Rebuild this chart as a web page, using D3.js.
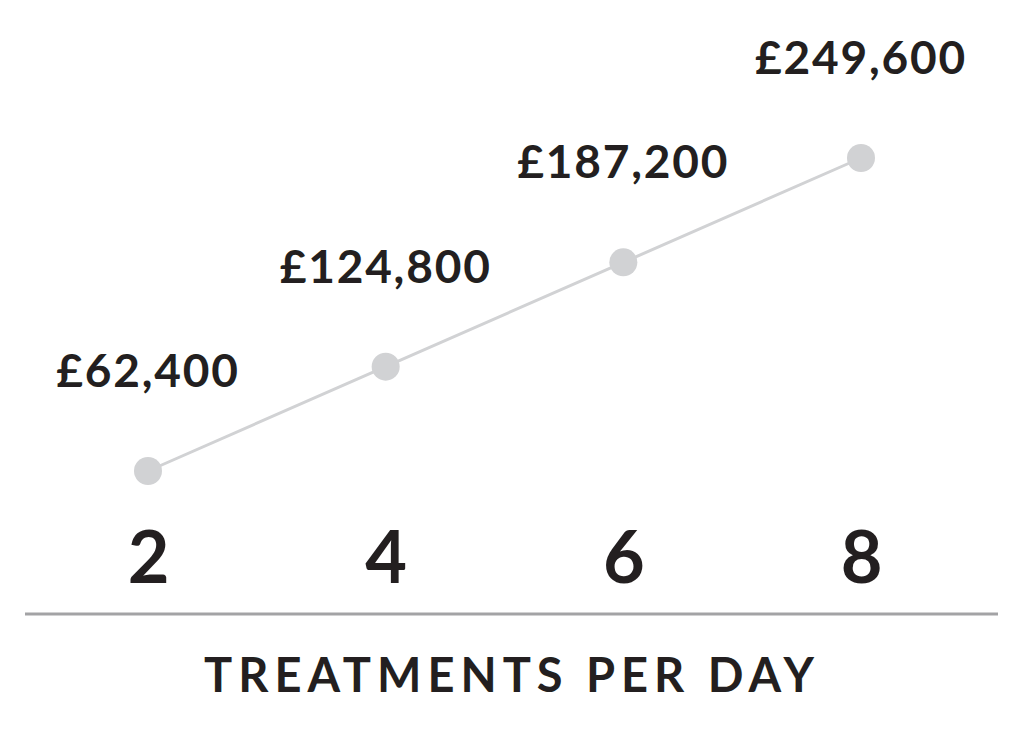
<!DOCTYPE html>
<html><head><meta charset="utf-8">
<script src="https://cdn.jsdelivr.net/npm/d3@7"></script>
<style>html,body{margin:0;padding:0;background:#fff;}svg{display:block;}</style>
</head><body>
<svg id="chart" width="1024" height="731"></svg>
<script>
const treatments = [2, 4, 6, 8];
const revenue = [62400, 124800, 187200, 249600];
const revenueLabels = ["£62,400", "£124,800", "£187,200", "£249,600"];
const axisTitle = "TREATMENTS PER DAY";

const svg = d3.select("#chart");
const x = d3.scaleLinear().domain([2, 8]).range([148, 861]);
const y = d3.scaleLinear().domain([62400, 249600]).range([471, 158]);
const data = treatments.map((t, i) => ({t, v: revenue[i], label: revenueLabels[i]}));

const textColor = "#231f20";
const font = "Lato, 'Open Sans', sans-serif";

svg.append("path").datum(data)
  .attr("fill", "none").attr("stroke", "#d1d2d4").attr("stroke-width", 3)
  .attr("d", d3.line().x(d => x(d.t)).y(d => y(d.v)));

svg.selectAll("circle.pt").data(data).join("circle")
  .attr("class", "pt")
  .attr("cx", d => x(d.t)).attr("cy", d => y(d.v)).attr("r", 14)
  .attr("fill", "#d1d2d4");

svg.selectAll("text.val").data(data).join("text")
  .attr("class", "val")
  .attr("x", d => x(d.t)).attr("y", d => y(d.v) - 84)
  .attr("text-anchor", "middle")
  .attr("font-family", font).attr("font-weight", 700).attr("font-size", 46)
  .attr("letter-spacing", 1.8)
  .attr("fill", textColor)
  .text(d => d.label);

const axis = d3.axisBottom(x).tickValues(treatments).tickSize(0).tickPadding(0).tickFormat(d3.format("d"));
const gAxis = svg.append("g").attr("transform", "translate(0,583)").call(axis);
gAxis.select(".domain").remove();
gAxis.selectAll("text")
  .attr("dy", 0).attr("y", 0)
  .attr("font-family", font).attr("font-weight", 700).attr("font-size", 72)
  .attr("fill", textColor);

svg.append("line")
  .attr("x1", 25).attr("x2", 998).attr("y1", 614).attr("y2", 614)
  .attr("stroke", "#a3a3a5").attr("stroke-width", 3);

svg.append("text")
  .attr("x", 512).attr("y", 692)
  .attr("text-anchor", "middle")
  .attr("font-family", font).attr("font-weight", 700).attr("font-size", 47)
  .attr("letter-spacing", 6)
  .attr("fill", textColor)
  .text(axisTitle);
</script>
</body></html>
